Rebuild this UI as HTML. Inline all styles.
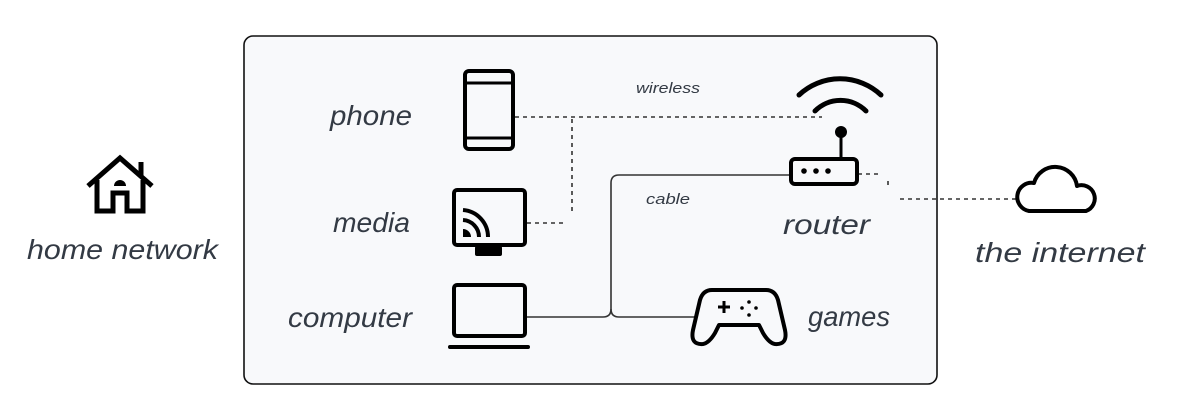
<!DOCTYPE html>
<html><head><meta charset="utf-8"><style>
html,body{margin:0;padding:0;background:#fff;}
svg{display:block;}
.lbl{font-family:"Liberation Sans",sans-serif;font-style:italic;fill:#333a44;}
</style></head><body>
<svg width="1189" height="420" viewBox="0 0 1189 420" xmlns="http://www.w3.org/2000/svg">
<rect x="244" y="36" width="693" height="348" rx="9" fill="#f8f9fb" stroke="#111" stroke-width="1.6"/>

<g stroke="#333" stroke-width="1.6" stroke-dasharray="4 4" fill="none">
<path d="M515 117 H822"/>
<path d="M572 119 V215"/>
<path d="M527 223 H566"/>
<path d="M858 174 H880"/>
<path d="M888 181 V188"/>
<path d="M900 199 H1016"/>
</g>
<g stroke="#333" stroke-width="1.6" fill="none">
<path d="M527 317 H603 Q611 317 611 309 V183 Q611 175 619 175 H790"/>
<path d="M611 309 Q611 317 619 317 H700"/>
</g>

<rect x="465" y="71" width="48" height="78" rx="4" fill="#f8f9fb" stroke="#000" stroke-width="4"/>
<line x1="465" y1="83" x2="513" y2="83" stroke="#000" stroke-width="3"/>
<line x1="465" y1="138" x2="513" y2="138" stroke="#000" stroke-width="3"/>

<rect x="454" y="190" width="71" height="55" rx="3" fill="#f8f9fb" stroke="#000" stroke-width="4"/>
<rect x="475" y="246" width="27" height="10" rx="2" fill="#000"/>
<path d="M463 210 A27 27 0 0 1 488 237" fill="none" stroke="#000" stroke-width="4"/>
<path d="M463 220 A17 17 0 0 1 479 237" fill="none" stroke="#000" stroke-width="4"/>
<path d="M463 229 A8 8 0 0 1 471 237 H463 Z" fill="#000"/>

<rect x="454" y="285" width="71" height="51" rx="3" fill="#f8f9fb" stroke="#000" stroke-width="4"/>
<rect x="448" y="345" width="82" height="4" rx="2" fill="#000"/>

<path d="M712 290 H766 Q775 290 778 300 L785 330 Q788 345 775 344 Q769 343 763 333 L759 325 H719 L715 333 Q709 343 703 344 Q690 345 693 330 L700 300 Q703 290 712 290 Z" fill="#f8f9fb" stroke="#000" stroke-width="4" stroke-linejoin="round"/>
<path d="M718 307 H730 M724 301 V313" stroke="#000" stroke-width="3"/>
<circle cx="749" cy="302" r="1.8" fill="#000"/>
<circle cx="742" cy="308" r="1.8" fill="#000"/>
<circle cx="756" cy="308" r="1.8" fill="#000"/>
<circle cx="749" cy="315" r="1.8" fill="#000"/>

<path d="M799 95 A60 60 0 0 1 881 95" fill="none" stroke="#000" stroke-width="5" stroke-linecap="round"/>
<path d="M815 111 A36 36 0 0 1 866 111" fill="none" stroke="#000" stroke-width="5" stroke-linecap="round"/>
<circle cx="841" cy="132" r="6" fill="#000"/>
<line x1="841" y1="132" x2="841" y2="158" stroke="#000" stroke-width="3"/>
<rect x="791" y="159" width="66" height="25" rx="4" fill="#f8f9fb" stroke="#000" stroke-width="4"/>
<circle cx="804" cy="171" r="2.8" fill="#000"/>
<circle cx="816" cy="171" r="2.8" fill="#000"/>
<circle cx="828" cy="171" r="2.8" fill="#000"/>

<path d="M88 186 L120 158 L152 186" fill="none" stroke="#000" stroke-width="5"/>
<path d="M97 180 V211 H113 V193 H127 V211 H143 V180" fill="none" stroke="#000" stroke-width="5"/>
<line x1="141" y1="162" x2="141" y2="176" stroke="#000" stroke-width="5"/>
<path d="M114 186 A6 6 0 0 1 126 186 Z" fill="#000"/>

<path d="M1029 211 A14 14 0 0 1 1034 183 A22 22 0 0 1 1077 186 A13 13 0 0 1 1086 211 Z" fill="#fff" stroke="#000" stroke-width="4" stroke-linejoin="round"/>

<text class="lbl" x="330" y="125" font-size="28" textLength="82" lengthAdjust="spacingAndGlyphs">phone</text>
<text class="lbl" x="333" y="232" font-size="28" textLength="77" lengthAdjust="spacingAndGlyphs">media</text>
<text class="lbl" x="288" y="327" font-size="28" textLength="124" lengthAdjust="spacingAndGlyphs">computer</text>
<text class="lbl" x="783" y="234" font-size="28" textLength="87" lengthAdjust="spacingAndGlyphs">router</text>
<text class="lbl" x="808" y="326" font-size="28" textLength="82" lengthAdjust="spacingAndGlyphs">games</text>
<text class="lbl" x="636" y="93" font-size="15" textLength="64" lengthAdjust="spacingAndGlyphs">wireless</text>
<text class="lbl" x="646" y="204" font-size="15" textLength="44" lengthAdjust="spacingAndGlyphs">cable</text>
<text class="lbl" x="27" y="259" font-size="28" textLength="191" lengthAdjust="spacingAndGlyphs">home network</text>
<text class="lbl" x="975" y="262" font-size="28" textLength="170" lengthAdjust="spacingAndGlyphs">the internet</text>
</svg>
</body></html>
